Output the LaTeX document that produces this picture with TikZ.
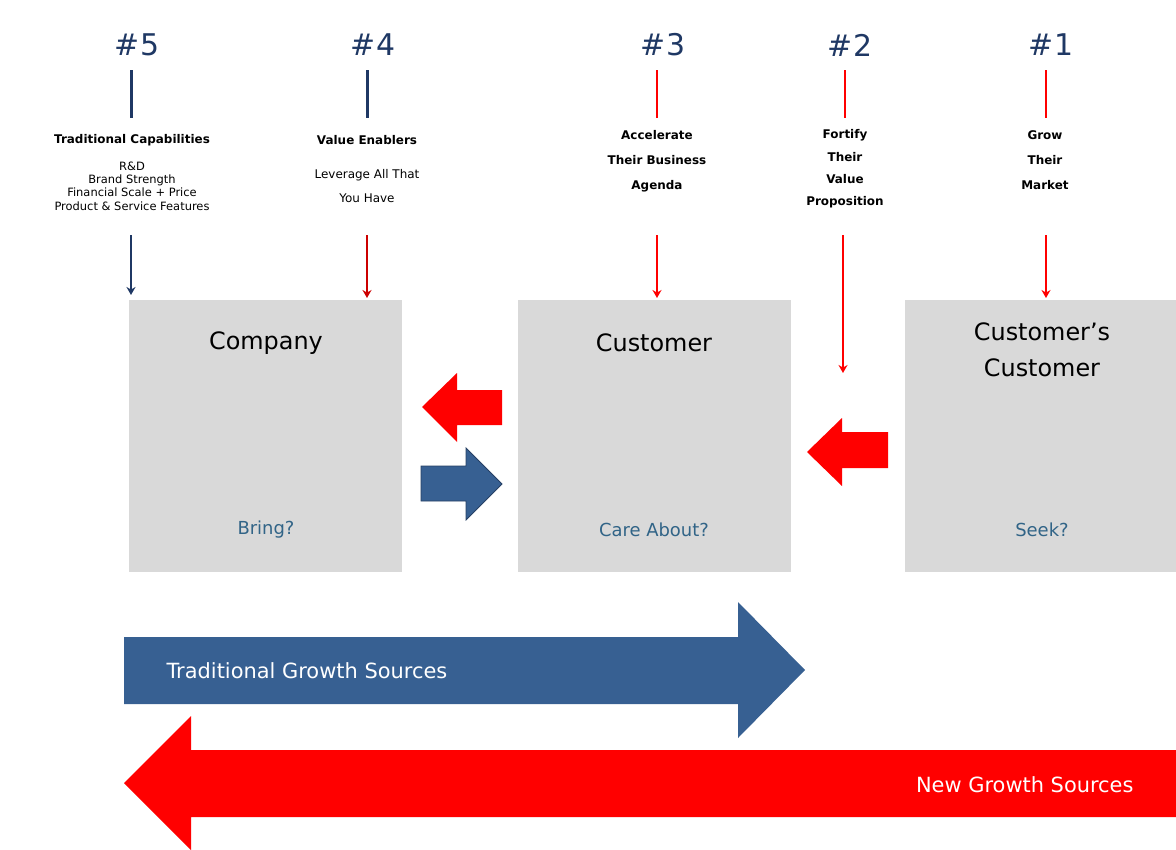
\documentclass[tikz,border=0pt]{standalone}
\usepackage{fontspec}
\usetikzlibrary{arrows.meta}
\setmainfont{DejaVu Sans}
\begin{document}
\begin{tikzpicture}[x=1bp,y=-1bp,
  num/.style={text=navy,font=\fontsize{30}{30}\selectfont},
  lbl/.style={align=center,font=\bfseries\fontsize{12}{17}\selectfont},
  sub/.style={align=center,font=\fontsize{11.5}{13.5}\selectfont},
  box/.style={fill=boxgray,draw=none,minimum width=273bp,minimum height=272bp,anchor=north west,inner sep=0},
  ttl/.style={font=\fontsize{24}{26}\selectfont,align=center},
  q/.style={text=qblue,font=\fontsize{18}{18}\selectfont},
  rl/.style={red,line width=2bp},
  nl/.style={navy,line width=3bp},
  ar/.style={-{Stealth[length=8bp,width=9bp]}}]
\definecolor{navy}{RGB}{31,56,100}
\definecolor{boxgray}{RGB}{217,217,217}
\definecolor{qblue}{RGB}{49,100,135}
\definecolor{bblue}{RGB}{55,96,146}
\definecolor{bdark}{RGB}{38,64,100}
\useasboundingbox (0,0) rectangle (1176,850);
% numbers
\node[num] (n5) at (137,45) {\#5};
\node[num] (n4) at (373,45) {\#4};
\node[num] (n3) at (663,45) {\#3};
\node[num] (n2) at (850,45) {\#2};
\node[num] (n1) at (1051,45) {\#1};
\draw[nl] (131,70) -- (131,118);
\draw[nl] (367,70) -- (367,118);
\draw[rl] (657,70) -- (657,118);
\draw[rl] (845,70) -- (845,118);
\draw[rl] (1046,70) -- (1046,118);
% labels
\node[lbl] (l5) at (132,140) {Traditional Capabilities};
\node[sub,anchor=north] (s5) at (132,158) {R\&D\\Brand Strength\\Financial Scale + Price\\Product \& Service Features};
\node[lbl] (l4) at (367,140) {Value Enablers};
\node[sub,anchor=north,font=\fontsize{12}{24}\selectfont] (s4) at (367,166) {Leverage All That\\You Have};
\node[lbl,anchor=north,font=\bfseries\fontsize{12}{25}\selectfont] (l3) at (657,127) {Accelerate\\Their Business\\Agenda};
\node[lbl,anchor=north,font=\bfseries\fontsize{12}{22.5}\selectfont] (l2) at (845,126) {Fortify\\Their\\Value\\Proposition};
\node[lbl,anchor=north,font=\bfseries\fontsize{12}{25}\selectfont] (l1) at (1045,127) {Grow\\Their\\Market};
% boxes
\node[box] (b1) at (129,300) {};
\node[box] (b2) at (518,300) {};
\node[box] (b3) at (905,300) {};
\node[ttl] (t1) at (266,343) {Company};
\node[ttl] (t2) at (654,343) {Customer};
\node[ttl,font=\fontsize{24}{36}\selectfont] (t3) at (1042,350) {Customer’s\\Customer};
\node[q] (q1) at (266,530) {Bring?};
\node[q] (q2) at (654,530) {Care About?};
\node[q] (q3) at (1042,530) {Seek?};
% down arrows
\coordinate (d5) at (131,235); \coordinate (e5) at (131,295);
\coordinate (d4) at (367,235); \coordinate (e4) at (367,298);
\coordinate (d3) at (657,235); \coordinate (e3) at (657,298);
\coordinate (d2) at (843,235); \coordinate (e2) at (843,373);
\coordinate (d1) at (1046,235); \coordinate (e1) at (1046,298);
\draw[navy,line width=2bp,ar] (d5) -- (e5);
\draw[red!80!black,line width=2.5bp,ar] (d4) -- (e4);
\draw[rl,ar] (d3) -- (e3);
\draw[rl,ar] (d2) -- (e2);
\draw[rl,ar] (d1) -- (e1);
% block arrows
\fill[red] (422,407) -- (457,373) -- (457,390) -- (502,390) -- (502,425) -- (457,425) -- (457,442) -- cycle;
\filldraw[fill=bblue,draw=bdark,line width=0.8bp] (502,484) -- (466,448) -- (466,466) -- (421,466) -- (421,501) -- (466,501) -- (466,520) -- cycle;
\fill[red] (807,452) -- (842,418) -- (842,432) -- (888,432) -- (888,468) -- (842,468) -- (842,486) -- cycle;
% big arrows
\fill[bblue] (124,637) -- (738,637) -- (738,602) -- (805,670) -- (738,738) -- (738,704) -- (124,704) -- cycle;
\node[text=white,anchor=west,font=\fontsize{21}{21}\selectfont] (tg) at (163,671) {Traditional Growth Sources};
\fill[red] (1176,750) -- (191,750) -- (191,716) -- (124,783) -- (191,850) -- (191,817) -- (1176,817) -- cycle;
\node[text=white,anchor=east,font=\fontsize{21}{21}\selectfont] (ng) at (1137,785) {New Growth Sources};
\end{tikzpicture}
\end{document}
